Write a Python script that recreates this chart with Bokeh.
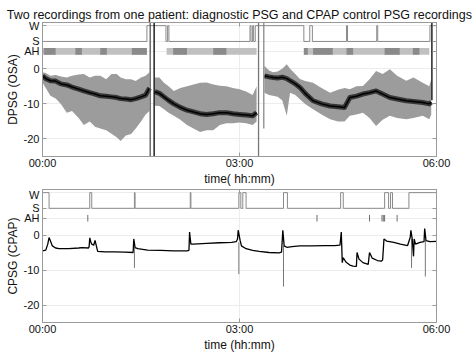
from bokeh.plotting import figure
from bokeh.layouts import column
from bokeh.models import Range1d, FixedTicker, LinearAxis, ColumnDataSource
from bokeh.embed import file_html
from bokeh.resources import INLINE

# ---------------- data ----------------
TITLE = "Two recordings from one patient: diagnostic PSG and CPAP control PSG recordings"
X_TICKS = [0, 3, 6]
X_TICK_LABELS = ["00:00", "03:00", "06:00"]
Y_TICKS = [-20, -10, 0, 5, 7.8, 12.3]
Y_TICK_LABELS = ["-20", "-10", "0", "AH", "S", "W"]
STAGE_LEVEL = {"W": 12.3, "S": 7.8}
AH_LO, AH_HI = 4.0, 5.9
Y_MIN, Y_MAX = -25, 13.2

# diagnostic PSG (OSA) - hypnogram (stage changes)
d_hyp_t = [0.0, 1.59, 1.88, 1.905, 1.925, 3.16, 3.175, 3.20, 3.215, 3.24, 3.98, 4.07, 4.11, 4.63, 4.645, 5.09, 5.105, 5.90, 6.0]
d_hyp_stage = ["S", "W", "S", "W", "S", "W", "S", "W", "S", "W", "S", "W", "S", "W", "S", "W", "S", "W", "W"]
# apnea/hypopnea event blocks
d_ah_start = [0.01, 1.89, 3.98]
d_ah_end = [1.59, 3.26, 5.89]
d_ah_dense_start = [0.02, 0.50, 0.88, 1.36, 1.99, 2.60, 3.98, 4.12, 4.63, 5.21, 5.64]
d_ah_dense_end = [0.20, 0.60, 0.98, 1.59, 2.20, 2.80, 4.04, 4.42, 4.73, 5.44, 5.74]
# pressure trace: segment, time, centre, upper and lower envelope
d_seg = ["A"] * 22 + ["B"] * 18 + ["C"] * 28
d_t = [0.00, 0.05, 0.12, 0.20, 0.28, 0.37, 0.45, 0.55, 0.63, 0.72, 0.80, 0.88, 0.97, 1.05, 1.13, 1.19, 1.27, 1.35, 1.42, 1.50, 1.57, 1.63,
       1.71, 1.78, 1.85, 1.92, 2.00, 2.10, 2.20, 2.30, 2.40, 2.50, 2.60, 2.70, 2.80, 2.90, 3.00, 3.10, 3.20, 3.26,
       3.38, 3.45, 3.51, 3.58, 3.65, 3.72, 3.77, 3.85, 3.92, 4.00, 4.12, 4.25, 4.38, 4.50, 4.60, 4.68, 4.78, 4.88, 4.98, 5.08, 5.18, 5.29, 5.40, 5.54, 5.65, 5.79, 5.89, 5.92]
d_center = [-2.0, -2.8, -3.4, -3.5, -4.3, -4.6, -5.2, -5.8, -6.3, -6.8, -7.2, -7.7, -7.8, -8.0, -8.2, -8.5, -8.6, -8.8, -8.5, -8.0, -7.5, -5.5,
            -6.5, -7.0, -8.0, -9.0, -10.0, -11.0, -11.8, -12.3, -12.8, -13.0, -12.8, -12.5, -12.5, -12.8, -13.0, -13.2, -13.4, -12.5,
            -2.0, -2.3, -2.5, -2.6, -2.4, -2.8, -3.4, -4.3, -5.3, -7.0, -9.1, -10.0, -10.6, -10.8, -11.0, -8.2, -7.8, -7.2, -6.8, -6.3, -7.2, -8.2, -8.6, -9.1, -9.3, -9.6, -10.0, -9.5]
d_hi = [-1.0, -1.2, -2.0, -1.8, -2.2, -2.5, -2.0, -1.6, -1.5, -2.5, -2.0, -2.0, -3.0, -1.5, -1.5, -2.5, -3.0, -3.0, -3.5, -2.5, -2.0, -1.0,
        -2.5, -2.5, -4.0, -5.0, -6.3, -5.5, -5.0, -4.5, -4.0, -3.9, -4.5, -4.8, -5.0, -5.5, -5.8, -6.5, -7.5, -5.0,
        0.9, -0.5, -1.0, -0.8, 0.0, 1.3, 0.0, -1.5, -2.9, -3.5, -4.0, -5.5, -6.8, -6.0, -5.5, -5.8, -5.0, -4.9, -3.0, -0.6, -1.5, -0.1, -2.0, -3.4, -2.5, -4.0, -5.0, -3.0]
d_lo = [-4.0, -5.5, -7.7, -8.5, -10.0, -12.5, -12.0, -14.0, -16.0, -15.0, -16.5, -17.0, -17.5, -18.5, -19.5, -20.6, -19.0, -18.6, -17.0, -15.0, -13.0, -12.0,
        -10.5, -10.6, -11.5, -12.5, -13.4, -14.5, -16.0, -17.0, -18.0, -17.5, -17.5, -16.0, -15.5, -15.5, -15.3, -15.5, -16.0, -15.0,
        -6.8, -7.5, -7.7, -8.0, -9.0, -13.4, -6.8, -7.5, -8.7, -10.0, -11.5, -13.0, -14.4, -15.0, -15.0, -13.4, -13.0, -12.5, -14.0, -16.3, -14.5, -13.4, -14.0, -14.4, -14.0, -13.4, -14.4, -13.0]
# full-height artefacts
d_art_t = [1.64, 1.70, 3.29, 3.37, 5.93]
d_art_top = [13.2, 13.2, 13.2, 13.2, 13.2]
d_art_bot = [-25.0, -25.0, -25.0, -17.0, -9.0]

# CPAP control PSG
c_hyp_t = [0.0, 0.10, 0.72, 0.75, 1.40, 1.41, 2.25, 2.26, 2.99, 3.02, 3.05, 3.10, 3.67, 3.73, 4.54, 4.58, 5.21, 5.27, 5.30, 5.33, 5.58, 6.0]
c_hyp_stage = ["W", "S", "W", "S", "W", "S", "W", "S", "W", "S", "W", "S", "W", "S", "W", "S", "W", "S", "W", "S", "W", "W"]
c_ah_t = [0.69, 4.18, 4.98, 5.17, 5.19, 5.21, 5.40]
c_t = [0.00, 0.05, 0.08, 0.10, 0.12, 0.15, 0.20, 0.25, 0.40, 0.55, 0.60, 0.70, 0.71, 0.72, 0.735, 0.75, 0.78, 0.80, 0.82, 0.84,
       0.95, 1.10, 1.25, 1.38, 1.39, 1.41, 1.45, 1.60, 1.80, 2.00, 2.20, 2.23, 2.24, 2.25, 2.26, 2.30, 2.50, 2.70, 2.88, 2.95,
       2.97, 2.98, 3.01, 3.03, 3.10, 3.20, 3.30, 3.45, 3.60, 3.64, 3.66, 3.68, 3.72, 3.80, 3.92, 4.10, 4.30, 4.45, 4.53, 4.55,
       4.565, 4.58, 4.62, 4.68, 4.73, 4.78, 4.79, 4.82, 4.88, 4.96, 4.98, 5.02, 5.10, 5.16, 5.18, 5.20, 5.24, 5.35, 5.45, 5.56,
       5.60, 5.61, 5.63, 5.65, 5.66, 5.68, 5.75, 5.81, 5.82, 5.84, 5.90, 6.00]
c_v = [-4.4, -4.2, -2.5, -0.6, -1.5, -3.0, -3.6, -3.8, -3.8, -3.6, -3.5, -3.6, -3.2, -0.7, -1.8, -2.5, -2.8, -1.4, -3.0, -4.6,
       -4.7, -4.7, -4.8, -4.9, -1.0, -3.5, -3.8, -4.2, -4.3, -4.4, -4.4, -4.3, 1.0, -1.0, -2.5, -2.5, -2.3, -2.1, -2.0, -1.8,
       -1.0, 1.5, -1.5, -3.0, -3.8, -4.3, -4.6, -4.9, -5.0, -4.8, 1.5, -3.0, -3.4, -3.2, -3.0, -3.0, -2.9, -2.9, -2.8, 1.0,
       -7.8, -6.4, -7.6, -8.5, -8.8, -8.9, -4.9, -6.8, -7.8, -8.3, -4.9, -6.5, -7.2, -7.4, -7.0, -1.0, -1.6, -2.0, -2.5, -2.9,
       -0.5, 1.5, -1.0, -6.0, -1.0, -2.5, -2.0, -1.8, 2.0, -1.5, -1.8, -1.7]
c_spk_t = [1.40, 2.99, 3.67, 5.62, 5.83]
c_spk_from = [-3.5, -2.0, -3.0, -1.0, -1.5]
c_spk_to = [-9.3, -11.1, -14.7, -9.3, -11.8]

# ---------------- drawing ----------------
FONT = "Liberation Sans"
FRAME = "#9a9a9a"


def make_panel(ylabel, xlabel, height, top, bottom, title=None):
    p = figure(width=474, height=height, output_backend="svg", toolbar_location=None,
               x_range=Range1d(0, 6), y_range=Range1d(Y_MIN, Y_MAX),
               min_border_left=42, min_border_right=38, min_border_top=top, min_border_bottom=bottom,
               background_fill_color="white", border_fill_color="white")
    if title:
        p.title.text = title
        p.title.align = "center"
        p.title.text_font = FONT
        p.title.text_font_size = "12.5px"
        p.title.text_font_style = "normal"
        p.title.text_color = "#111111"
        p.title.standoff = 2
        p.title.offset = 0
    p.outline_line_color = FRAME
    xt = FixedTicker(ticks=X_TICKS)
    yt = FixedTicker(ticks=Y_TICKS)
    p.xaxis.ticker = xt
    p.yaxis.ticker = yt
    p.xaxis.major_label_overrides = dict(zip(X_TICKS, X_TICK_LABELS))
    p.yaxis.major_label_overrides = dict(zip(Y_TICKS, Y_TICK_LABELS))
    p.xaxis.axis_label = xlabel
    p.yaxis.axis_label = ylabel
    for ax in (p.xaxis[0], p.yaxis[0]):
        ax.axis_line_color = FRAME
        ax.major_tick_line_color = FRAME
        ax.major_tick_in = 4
        ax.major_tick_out = 0
        ax.minor_tick_line_color = None
        ax.major_label_text_font = FONT
        ax.major_label_text_font_size = "11px"
        ax.major_label_text_color = "#111111"
        ax.axis_label_text_font = FONT
        ax.axis_label_text_font_size = "12px"
        ax.axis_label_text_font_style = "normal"
        ax.axis_label_text_color = "#111111"
        ax.major_label_standoff = 3
        ax.axis_label_standoff = 1
    p.xaxis.major_label_standoff = 0
    p.xaxis.axis_label_standoff = 0
    for loc, tk in (("right", yt), ("above", xt)):
        ax = LinearAxis(ticker=tk, axis_line_color=FRAME, major_tick_line_color=FRAME,
                        major_tick_in=4, major_tick_out=0, minor_tick_line_color=None,
                        major_label_text_color=None, major_label_text_alpha=0,
                        major_label_text_font_size="1px", major_label_standoff=0)
        p.add_layout(ax, loc)
    p.xgrid.ticker = xt
    p.ygrid.ticker = yt
    p.grid.grid_line_color = "#ececec"
    return p


def hyp_source(ts, stages):
    return ColumnDataSource(dict(t=ts, y=[STAGE_LEVEL[s] for s in stages]))


# top panel
p1 = make_panel("DPSG (OSA)", "time( hh:mm)", 188, 22, 30, TITLE)
for seg in ("A", "B", "C"):
    idx = [i for i, s in enumerate(d_seg) if s == seg]
    src = ColumnDataSource(dict(t=[d_t[i] for i in idx], c=[d_center[i] for i in idx],
                                hi=[d_hi[i] for i in idx], lo=[d_lo[i] for i in idx]))
    p1.varea(x="t", y1="lo", y2="hi", source=src, fill_color="#9c9c9c")
    p1.line(x="t", y="c", source=src, line_color="#262626", line_width=5, line_alpha=0.85, line_join="round")
    p1.line(x="t", y="c", source=src, line_color="black", line_width=1.5)
p1.quad(left=d_ah_start, right=d_ah_end, bottom=AH_LO, top=AH_HI, fill_color="#c0c0c0", line_color=None)
p1.quad(left=d_ah_dense_start, right=d_ah_dense_end, bottom=AH_LO, top=AH_HI, fill_color="#8a8a8a", line_color=None)
p1.step(x="t", y="y", source=hyp_source(d_hyp_t, d_hyp_stage), mode="after", line_color="#8a8a8a", line_width=1)
art_colors = ["#555555", "black", "#777777", "#888888", "black"]
p1.segment(x0=d_art_t, y0=d_art_top, x1=d_art_t, y1=d_art_bot, line_color=art_colors, line_width=1.3)

# bottom panel
p2 = make_panel("CPSG (CPAP)", "time (hh:mm)", 166, 1, 32)
p2.step(x="t", y="y", source=hyp_source(c_hyp_t, c_hyp_stage), mode="after", line_color="#8a8a8a", line_width=1)
p2.segment(x0=c_ah_t, y0=AH_LO, x1=c_ah_t, y1=AH_HI, line_color="#6e6e6e", line_width=1)
p2.segment(x0=c_spk_t, y0=c_spk_from, x1=c_spk_t, y1=c_spk_to, line_color="#777777", line_width=1)
p2.line(x=c_t, y=c_v, line_color="black", line_width=1.3)

layout = column(p1, p2, spacing=0)
open("out.html", "w").write(file_html(layout, INLINE))
